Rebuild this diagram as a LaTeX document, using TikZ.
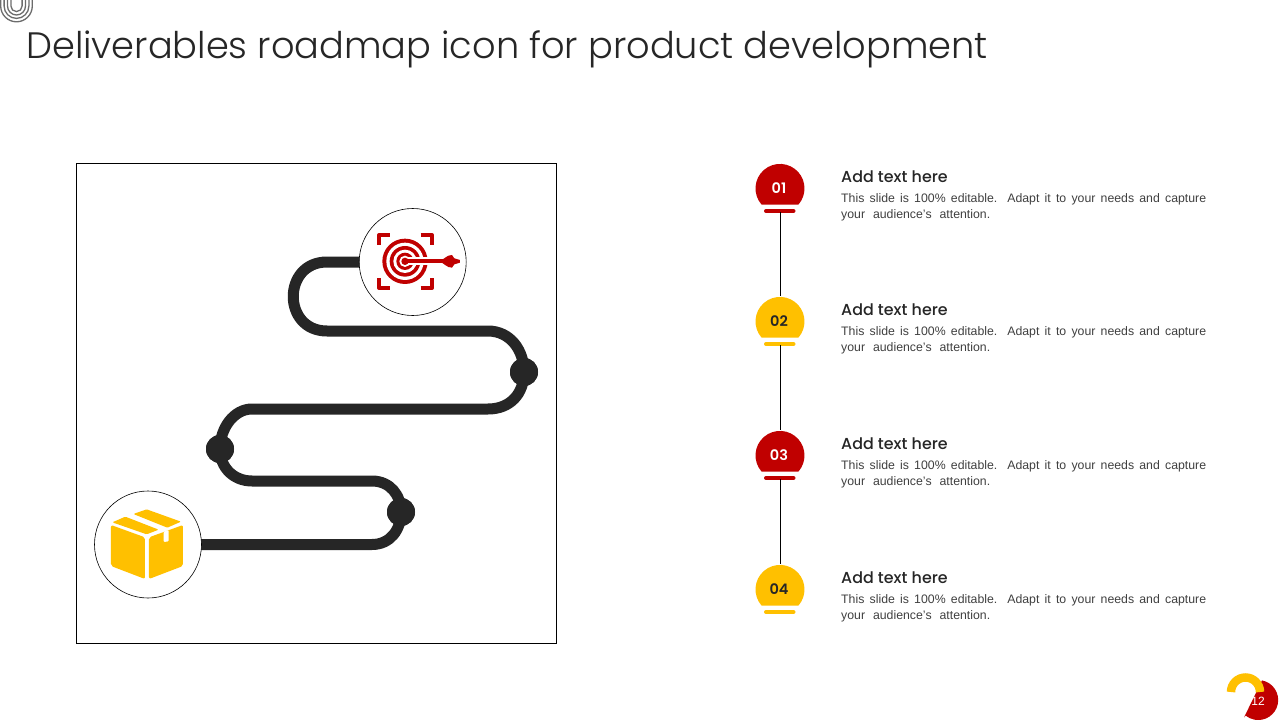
\documentclass[tikz,border=0pt]{standalone}
\usepackage{fontspec}
\setmainfont{Liberation Sans}
\newfontfamily\ttlfont{Poppins Light}
\newfontfamily\headfont{Poppins Medium}
\newfontfamily\numfont{Poppins SemiBold}
\definecolor{rd}{HTML}{C00000}
\definecolor{yl}{HTML}{FFC000}
\definecolor{dk}{HTML}{262626}
\definecolor{bd}{HTML}{404040}
\tikzset{
  titletxt/.style={anchor=west,inner sep=0pt,text=dk,font=\ttlfont\fontsize{36.75}{42}\selectfont},
  headtxt/.style={anchor=west,inner sep=0pt,text=dk,font=\headfont\fontsize{15.9}{18}\selectfont},
  bodytxt/.style={anchor=north west,inner sep=0pt,text=bd,font=\fontsize{12.3}{16}\selectfont},
  road/.style={draw=dk,line width=11pt,line join=round},
  waydot/.style={circle,fill=dk,minimum size=28pt,inner sep=0pt},
  iconring/.style={circle,draw=black,fill=white,line width=0.6pt,minimum size=107pt,inner sep=0pt},
  stepnum/.style={circle,minimum size=49pt,inner sep=0pt,font=\numfont\fontsize{14.5}{16}\selectfont},
  steplink/.style={draw=black,line width=1pt},
  stepbar/.style={line width=4pt,line cap=round},
}
\newcommand{\bodylines}{\parbox[t]{365pt}{\hbox to 365pt{This slide is 100\% editable. Adapt it to your needs and capture}\hbox to 149pt{your audience's attention.}}}
\newcommand{\stepitem}[5]{%
  \fill[#2] (761.5,#3+16.5) arc[start angle=139,end angle=401,radius=24.5] -- cycle;
  \node[stepnum,text=#4] (s#1) at (779,#3) {0#1};
  \draw[stepbar,draw=#5] (766,#3+23) -- (793.5,#3+23);
  \coordinate (b#1) at (780.5,#3+24);
  \node[headtxt] (h#1) at (841,#3-11) {Add text here};
  \node[bodytxt] (t#1) at (841,#3+5) {\bodylines};
}
\begin{document}
\begin{tikzpicture}[x=1pt,y=-1pt]
\useasboundingbox (0,0) rectangle (1280,720);
\fill[white] (0,0) rectangle (1280,720);
% corner mark
\begin{scope}
\clip (0,0) rectangle (40,30);
\foreach \r in {15.8,12.4,9,5.6}
  \draw[gray!85!black,line width=1.3pt] (16.5-\r,0) -- (16.5-\r,6) arc[start angle=180,end angle=0,radius=\r] -- (16.5+\r,0);
\end{scope}
\node[titletxt] (title) at (26,49) {Deliverables roadmap icon for product development};
% frame
\node[draw=black,line width=0.7pt,outer sep=0pt,minimum width=480pt,minimum height=480pt,inner sep=0pt,anchor=north west] (frame) at (76.5,163.5) {};
% nodes
\node[waydot] (w1) at (524,372) {};
\node[waydot] (w2) at (220,449) {};
\node[waydot] (w3) at (401,512) {};
\coordinate (tc) at (412.7,262);
\coordinate (bc) at (148,544.5);
% road
\draw[road] (tc) -- (327,262) .. controls (282,262) and (282,331) .. (327,331) -- (488,331)
  .. controls (510,331) and (524,350) .. (w1.center) .. controls (524,394) and (510,409) .. (488,409) -- (252,409)
  .. controls (234,409) and (220,428) .. (w2.center) .. controls (220,468) and (234,481) .. (252,481) -- (372,481)
  .. controls (390,481) and (401,495) .. (w3.center) .. controls (401,530) and (390,544.5) .. (372,544.5) -- (bc);
\node[waydot] at (w1) {};
\node[waydot] at (w2) {};
\node[waydot] at (w3) {};
\node[iconring] (target) at (tc) {};
\node[iconring] (box) at (bc) {};
% target icon
\begin{scope}[shift={(340,190)},scale=0.3333]
  \draw[rd,line width=4pt,line join=round]
    (117,164) -- (117,135) -- (151,135)
    (242,135) -- (276,135) -- (276,164)
    (117,265) -- (117,294) -- (151,294)
    (242,294) -- (276,294) -- (276,265);
  \fill[rd] (195,214) circle[radius=68];
  \fill[white] (195,214) circle[radius=56];
  \fill[rd] (195,214) circle[radius=46];
  \fill[white] (195,214) circle[radius=35];
  \fill[rd] (195,214) circle[radius=26];
  \fill[white] (195,214) circle[radius=17];
  \fill[rd] (195,214) circle[radius=11];
  \fill[white] (205,202) rectangle (290,226);
  \fill[rd] (195,208) rectangle (310,220);
  \fill[rd] (296,214) .. controls (312,210) and (320,194) .. (336,195) -- (343,205) -- (360,210) -- (360,218) -- (343,223) -- (336,233) .. controls (320,234) and (312,218) .. (296,214) -- cycle;
\end{scope}
% box icon
\begin{scope}[shift={(80,480)},scale=0.3333]
  \fill[yl,rounded corners=2pt] (93,135) -- (195,172) -- (195,297) -- (93,258) -- cycle;
  \fill[yl,rounded corners=2pt] (207,172) -- (309,135) -- (309,258) -- (207,297) -- cycle;
  \fill[white,rounded corners=1pt] (251,155) -- (266,150) -- (266,184) -- (251,186) -- cycle;
  \fill[yl,rounded corners=1pt] (97,127) -- (136,110) -- (236,149) -- (200,163) -- cycle;
  \fill[yl,rounded corners=1pt] (160,102) -- (200,88) -- (303,125) -- (262,143) -- cycle;
\end{scope}
% steps
\stepitem{1}{rd}{188}{white}{rd}
\stepitem{2}{yl}{321}{dk}{yl}
\stepitem{3}{rd}{455}{white}{rd}
\stepitem{4}{yl}{589}{dk}{yl}
\draw[steplink] (b1) -- (b1 |- s2.north);
\draw[steplink] (b2) -- (b2 |- s3.north);
\draw[steplink] (b3) -- (b3 |- s4.north);
% page mark
\fill[rd] (1244,717.5) -- (1262,680.4) arc[start angle=-79,end angle=129,radius=20] -- cycle;
\draw[yl,line width=8.5pt] (1231,692) arc[start angle=180,end angle=360,radius=14.5];
\node[text=white,inner sep=0pt,font=\fontsize{12}{14}\selectfont] (pg) at (1258,701) {12};
\end{tikzpicture}
\end{document}
